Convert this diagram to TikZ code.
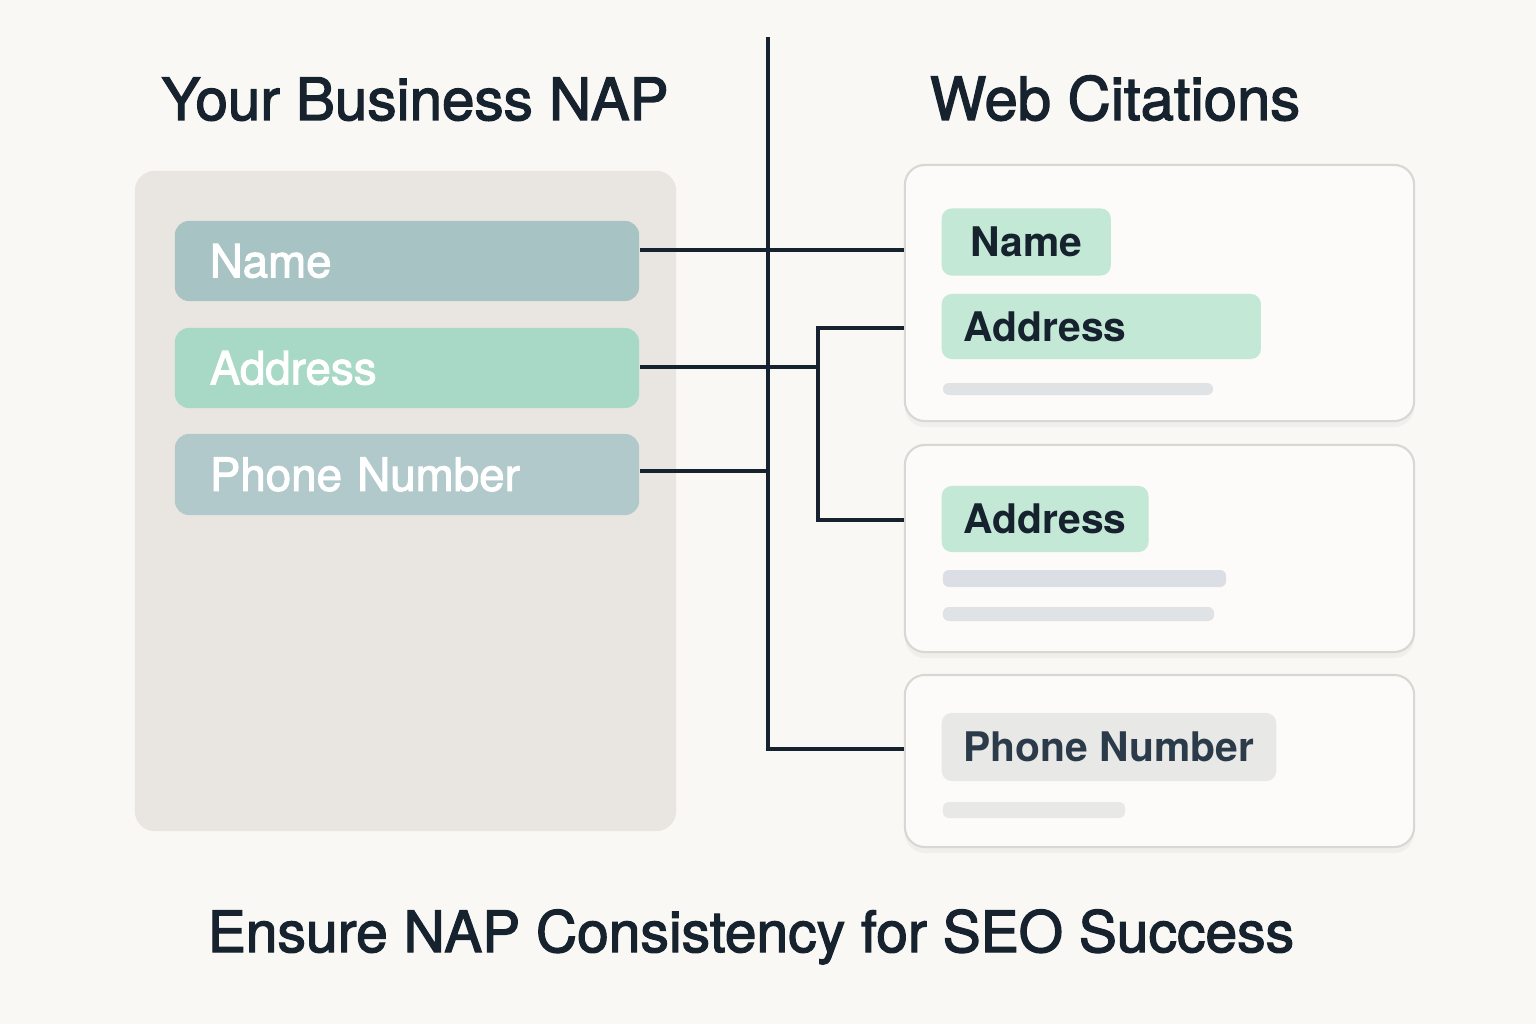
\documentclass[tikz,border=0pt]{standalone}
\usepackage{fontspec}
\setmainfont{TeX Gyre Heros}
\newfontfamily\medfont{TeX Gyre Heros}[FakeBold=2.2]
\usetikzlibrary{positioning,shadows}
\definecolor{bgc}{HTML}{FAF8F4}
\definecolor{panelc}{HTML}{E9E5E0}
\definecolor{namec}{HTML}{A8C3C4}
\definecolor{addrc}{HTML}{A8D9C6}
\definecolor{phonec}{HTML}{B2C9CC}
\definecolor{chipc}{HTML}{C3E8D6}
\definecolor{chipgray}{HTML}{E8E8E7}
\definecolor{linec}{HTML}{E0E3E5}
\definecolor{cardc}{HTML}{FCFBF9}
\definecolor{cardedge}{HTML}{D9D7D3}
\definecolor{inkc}{HTML}{16222D}
\definecolor{inkb}{HTML}{2C3B4A}

\begin{document}
\begin{tikzpicture}[x=0.01cm,y=-0.01cm,
  bar/.style={rounded corners=0.14cm,minimum height=0.8cm,text width=3.94cm,
              inner xsep=0.35cm,align=left,text=white,
              font=\medfont\fontsize{13}{15}\selectfont},
  card/.style={fill=cardc,draw=cardedge,line width=0.6pt,rounded corners=0.2cm,
               minimum width=5.09cm,
               drop shadow={opacity=0.07,shadow xshift=0cm,shadow yshift=-0.06cm}},
  chip/.style={rounded corners=0.1cm,fill=chipc,inner xsep=0.22cm,anchor=west,
               minimum height=0.67cm,text=inkc,
               font=\bfseries\fontsize{11.6}{14}\selectfont},
  stub/.style={fill=linec,rounded corners=0.06cm,inner sep=0pt},
  wire/.style={draw=inkc,line width=1.05pt},
  heading/.style={anchor=base,text=inkc,font=\medfont\fontsize{16.6}{20}\selectfont}]

  % canvas
  \fill[bgc] (0,0) rectangle (1536,1024);
  \useasboundingbox (0,0) rectangle (1536,1024);

  % titles
  \node[heading] (ttl) at (415,120) {Your Business NAP};
  \node[heading,font=\medfont\fontsize{17}{20}\selectfont] (ttr) at (1115,120) {Web Citations};
  \node[heading,font=\medfont\fontsize{16.2}{20}\selectfont] (foot) at (751,952)
    {Ensure NAP Consistency for SEO Success};

  % left panel
  \node[fill=panelc,rounded corners=0.2cm,minimum width=5.41cm,minimum height=6.6cm]
    (panel) at (405.5,501) {};
  \node[bar,fill=namec]  (nameL)  at (407,261)   {Name};
  \node[bar,fill=addrc]  (addrL)  at (407,368)   {Address};
  \node[bar,fill=phonec,minimum height=0.81cm] (phoneL) at (407,474.5) {Phone Number};

  % citation cards
  \node[card,minimum height=2.56cm] (card1) at (1159.5,293)   {};
  \node[card,minimum height=2.07cm] (card2) at (1159.5,548.5) {};
  \node[card,minimum height=1.72cm] (card3) at (1159.5,761)   {};

  \node[chip,minimum width=1.69cm] (nameR) at (941,242)   {Name};
  \node[chip,minimum width=3.19cm,minimum height=0.65cm,text width=2.75cm] (addrR) at (941,326.5) {Address};
  \node[stub,minimum width=2.7cm,minimum height=0.12cm] (s1) at (1078,389) {};

  \node[chip,minimum width=2.01cm,minimum height=0.66cm] (addrR2) at (941,519) {Address};
  \node[stub,minimum width=2.83cm,minimum height=0.17cm,fill=linec!90!blue!20!linec] (s2) at (1084.5,578.5) {};
  \node[stub,minimum width=2.71cm,minimum height=0.14cm] (s3) at (1078.5,614) {};

  \node[chip,fill=chipgray,text=inkb,minimum width=3.3cm,minimum height=0.68cm] (phoneR) at (941,747) {Phone Number};
  \node[stub,minimum width=1.82cm,minimum height=0.16cm,fill=chipgray] (s4) at (1034,810) {};

  % connectors
  \coordinate (top) at (768,37);
  \coordinate (fork) at (818,367);
  \draw[wire] (top) |- (card3.west |- 0,749);
  \draw[wire] (nameL.east |- 0,250) -- (card1.west |- 0,250);
  \draw[wire] (addrL.east |- fork) -- (fork);
  \draw[wire] (card1.west |- 0,328) -| (fork) |- (card2.west |- 0,520);
  \draw[wire] (phoneL.east |- 0,471) -- (top |- 0,471);
\end{tikzpicture}
\end{document}
